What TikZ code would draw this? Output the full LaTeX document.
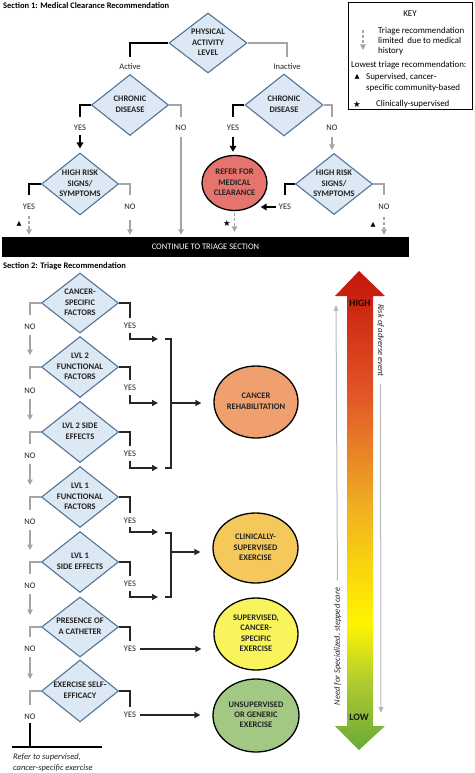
\documentclass[tikz,border=0pt]{standalone}
\usepackage{fontspec}
\setmainfont{Carlito}
\newfontfamily\symfont{DejaVu Sans}
\usetikzlibrary{shapes.geometric,arrows.meta,calc}
\definecolor{dfill}{RGB}{221,232,245}
\definecolor{dedge}{RGB}{84,116,150}
\definecolor{lgray}{RGB}{165,165,165}
\definecolor{sgray}{RGB}{185,185,192}
\definecolor{txtdark}{RGB}{35,35,35}
\definecolor{cRefer}{RGB}{230,116,110}
\definecolor{cRehab}{RGB}{240,160,110}
\definecolor{cClin}{RGB}{245,200,92}
\definecolor{cSup}{RGB}{250,244,92}
\definecolor{cUnsup}{RGB}{162,200,132}
\definecolor{ga}{RGB}{196,22,12}
\definecolor{gb}{RGB}{203,36,16}
\definecolor{gc}{RGB}{227,90,40}
\definecolor{gd}{RGB}{240,174,34}
\definecolor{ge}{RGB}{248,208,16}
\definecolor{gf}{RGB}{255,245,0}
\definecolor{gg}{RGB}{178,204,48}
\definecolor{gh}{RGB}{102,168,58}
\newcommand\myfs{\fontsize{8.5}{10.3}\selectfont}
\newcommand\keyfs{\fontsize{8.9}{10.2}\selectfont}
\newcommand\ctext[1]{\makebox[0pt]{\begin{tabular}{@{}c@{}}#1\end{tabular}}}
\begin{document}
\begin{tikzpicture}[x=1pt,y=-1pt,
  dia/.style={shape=diamond, draw=dedge, line width=1.1pt, fill=dfill, inner sep=0pt,
     minimum width=77pt, minimum height=61pt, font=\myfs\bfseries, text=txtdark},
  ell/.style={shape=ellipse, draw=black, line width=1.3pt, inner sep=0pt, font=\myfs\bfseries, text=txtdark},
  lab/.style={font=\myfs, inner sep=1pt, text height=5.5pt, text depth=0pt, text=txtdark},
  blk/.style={line width=1.8pt, black},
  blkarr/.style={blk, -{Triangle[length=6pt,width=6.5pt]}},
  blktwo/.style={line width=1.5pt, black!85},
  blkarrtwo/.style={blktwo, -{Triangle[length=6pt,width=6pt]}},
  gry/.style={line width=1.1pt, lgray},
  gryarr/.style={gry, -{Triangle[length=5.5pt,width=5.5pt]}},
  dsh/.style={gryarr, dash pattern=on 3pt off 2pt},
  sidearr/.style={line width=1pt, sgray, -{Triangle[length=6pt,width=5pt]}},
  sym/.style={font=\symfont\fontsize{6.5}{6.5}\selectfont, inner sep=0pt},
  starsym/.style={font=\symfont\fontsize{8.5}{8.5}\selectfont, inner sep=0pt},
  ttl/.style={font=\myfs\bfseries, anchor=west, inner sep=0pt},
  keytxt/.style={font=\keyfs, anchor=west, inner sep=0pt, align=left}
]
\useasboundingbox (0,0) rectangle (474,773);

%================ Section 1 =================
\node[ttl] (s1) at (3,6) {Section 1: Medical Clearance Recommendation};

\node[dia, minimum width=78pt, minimum height=60pt] (pal) at (208,43) {\ctext{PHYSICAL\\ACTIVITY\\LEVEL}};
\node[lab] (active) at (130,67) {Active};
\node[lab] (inactive) at (287,67) {Inactive};

\node[dia] (cdA) at (130,105) {\ctext{CHRONIC\\DISEASE}};
\node[dia, minimum width=78pt, minimum height=62pt] (cdB) at (284,105) {\ctext{CHRONIC\\DISEASE}};

\node[lab] (yesA) at (80,128) {YES};
\node[lab] (noA) at (181,128) {NO};
\node[lab] (yesB) at (233,128) {YES};
\node[lab] (noB) at (332,128) {NO};

\node[dia, minimum height=62pt] (hrA) at (80,184) {\ctext{HIGH RISK\\SIGNS/\\SYMPTOMS}};
\node[ell, fill=cRefer, minimum width=65pt, minimum height=55pt] (refer) at (234.5,183) {\ctext{REFER FOR\\MEDICAL\\CLEARANCE}};
\node[dia] (hrB) at (334,184) {\ctext{HIGH RISK\\SIGNS/\\SYMPTOMS}};

\node[lab] (yesA2) at (29,207) {YES};
\node[lab] (noA2) at (130,207) {NO};
\node[lab] (yesB2) at (285,207) {YES};
\node[lab] (noB2) at (384,207) {NO};

\node[sym] (triA) at (19,224) {▲};
\node[starsym] (starR) at (227,223) {★};
\node[sym] (triB) at (373,225) {▲};

\node[fill=black, text=white, font=\myfs, minimum width=407pt, minimum height=20pt, inner sep=0pt] (bar) at (205.5,247) {CONTINUE TO TRIAGE SECTION};

% connectors section 1
\draw[blk, shorten >=6pt] (pal.west) -| (active.north);
\draw[gry, shorten >=6pt] (pal.east) -| (inactive.north);
\draw[blk, shorten >=7pt] (cdA.west) -| (yesA.north);
\draw[gry, shorten >=7pt] (cdA.east) -| (noA.north);
\draw[blk, shorten >=7pt] (cdB.west) -| (yesB.north);
\draw[gry, shorten >=7pt] (cdB.east) -| (noB.north);
\draw[blkarr, shorten <=3pt, shorten >=4pt] (yesA.south) -- (hrA.north);
\draw[gryarr, shorten <=5pt, shorten >=2pt] (noA.south) -- (noA.south |- bar.north);
\draw[blkarr, shorten <=5pt, shorten >=3pt] (yesB.south) -- (yesB.south |- refer.north);
\draw[gryarr, shorten <=5pt, shorten >=3pt] (noB.south) -- (noB.south |- hrB.north);
\draw[blk, shorten >=8pt] (hrA.west) -| (yesA2.north);
\draw[gry, shorten >=8pt] (hrA.east) -| (noA2.north);
\draw[dsh, shorten <=5pt, shorten >=2pt] (yesA2.south) -- (yesA2.south |- bar.north);
\draw[gryarr, shorten <=9pt, shorten >=2pt] (noA2.south) -- (noA2.south |- bar.north);
\draw[dsh, shorten <=1.5pt, shorten >=5pt] (refer.south) -- (refer.south |- bar.north);
\draw[blk, shorten >=8pt] (hrB.west) -| (yesB2.north);
\draw[blkarr, shorten <=2pt] (yesB2.west) -- ($(yesB2.west -| refer.east)+(-7,0)$);
\draw[gry, shorten >=8pt] (hrB.east) -| (noB2.north);
\draw[dsh, shorten <=6pt, shorten >=2pt] (noB2.south) -- (noB2.south |- bar.north);

%================ Key =================
\node[draw, line width=1.3pt, minimum width=124pt, minimum height=107pt, inner sep=0pt, anchor=north west] (key) at (348,2) {};
\node[font=\keyfs, inner sep=0pt] (keyt) at (410,14) {KEY};
\coordinate (kA) at (363,30);
\coordinate (kB) at (363,50);
\draw[dsh] (kA) -- (kB);
\node[keytxt] (keyl) at (378,41) {Triage recommendation\\limited~ due to medical\\history};
\node[keytxt] (keylow) at (351,65) {Lowest triage recommendation:};
\node[sym] (ktri) at (357,77) {▲};
\node[keytxt, font=\fontsize{8.9}{11}\selectfont] (ksup) at (366,82.5) {Supervised, cancer-\\specific community-based};
\node[starsym] (kstar) at (357,104) {★};
\node[keytxt] (kclin) at (376,104) {Clinically-supervised};

%================ Section 2 =================
\node[ttl] (s2) at (3,266) {Section 2: Triage Recommendation};

\node[dia, minimum height=60pt] (d1) at (80,303) {\ctext{CANCER-\\SPECIFIC\\FACTORS}};
\node[dia, minimum height=61pt] (d2) at (80,367) {\ctext{LVL 2\\FUNCTIONAL\\FACTORS}};
\node[dia, minimum height=61pt] (d3) at (80,432) {\ctext{LVL 2 SIDE\\EFFECTS}};
\node[dia, minimum height=61pt] (d4) at (80,497) {\ctext{LVL 1\\FUNCTIONAL\\FACTORS}};
\node[dia, minimum height=61pt] (d5) at (80,562) {\ctext{LVL 1\\SIDE EFFECTS}};
\node[dia, minimum height=60pt] (d6) at (80,627) {\ctext{PRESENCE OF\\A CATHETER}};
\node[dia, minimum height=62pt] (d7) at (80,691) {\ctext{EXERCISE SELF-\\EFFICACY}};

\node[lab] (no1) at (30,327) {NO};
\node[lab] (no2) at (30,391) {NO};
\node[lab] (no3) at (30,456) {NO};
\node[lab] (no4) at (30,522) {NO};
\node[lab] (no5) at (30,586) {NO};
\node[lab] (no6) at (30,649) {NO};
\node[lab] (no7) at (30,717) {NO};

\node[lab] (yes1) at (130,326) {YES};
\node[lab] (yes2) at (130,388) {YES};
\node[lab] (yes3) at (130,454) {YES};
\node[lab] (yes4) at (130,521) {YES};
\node[lab] (yes5) at (130,584) {YES};
\node[lab] (yes6) at (130,649) {YES};
\node[lab] (yes7) at (130,715) {YES};

\node[ell, fill=cRehab, minimum width=84pt, minimum height=72pt] (rehab) at (256,402) {\ctext{CANCER\\REHABILITATION}};
\node[ell, fill=cClin, minimum width=85pt, minimum height=70pt] (clin) at (255.5,548) {\ctext{CLINICALLY-\\SUPERVISED\\EXERCISE}};
\node[ell, fill=cSup, minimum width=84pt, minimum height=72pt] (sup) at (256,634) {\ctext{SUPERVISED,\\CANCER-\\SPECIFIC\\EXERCISE}};
\node[ell, fill=cUnsup, minimum width=86pt, minimum height=73pt] (unsup) at (256,715.5) {\ctext{UNSUPERVISED\\OR GENERIC\\EXERCISE}};

% NO chain
\draw[gry, shorten >=8pt] (d1.west) -| (no1.north);
\draw[gry, shorten >=8pt] (d2.west) -| (no2.north);
\draw[gry, shorten >=8pt] (d3.west) -| (no3.north);
\draw[gry, shorten >=8pt] (d4.west) -| (no4.north);
\draw[gry, shorten >=8pt] (d5.west) -| (no5.north);
\draw[gry, shorten >=8pt] (d6.west) -| (no6.north);
\draw[gry, shorten >=8pt] (d7.west) -| (no7.north);
\draw[gryarr, shorten <=4pt, shorten >=12pt] (no1.south) -- (no1.south |- d2.west);
\draw[gryarr, shorten <=4pt, shorten >=12pt] (no2.south) -- (no2.south |- d3.west);
\draw[gryarr, shorten <=4pt, shorten >=12pt] (no3.south) -- (no3.south |- d4.west);
\draw[gryarr, shorten <=4pt, shorten >=12pt] (no4.south) -- (no4.south |- d5.west);
\draw[gryarr, shorten <=4pt, shorten >=12pt] (no5.south) -- (no5.south |- d6.west);
\draw[gryarr, shorten <=4pt, shorten >=12pt] (no6.south) -- (no6.south |- d7.west);

\coordinate (refL) at (12,747);
\coordinate (refR) at (102,747);
\draw[blk, shorten <=2pt] (no7.south) -- (no7.south |- refL);
\draw[blk] (refL) -- (refR);
\node[font=\fontsize{8.5}{11}\selectfont\itshape, anchor=west, align=left, inner sep=0pt, text=txtdark] (refer2) at (13,763) {Refer to supervised,\\cancer-specific exercise};

% YES branches
\draw[blktwo, shorten >=4pt] (d1.east) -| (yes1.north);
\draw[blktwo, shorten >=4pt] (d2.east) -| (yes2.north);
\draw[blktwo, shorten >=4pt] (d3.east) -| (yes3.north);
\draw[blktwo, shorten >=4pt] (d4.east) -| (yes4.north);
\draw[blktwo, shorten >=4pt] (d5.east) -| (yes5.north);
\draw[blktwo, shorten >=4pt] (d6.east) -| (yes6.north);
\draw[blktwo, shorten >=4pt] (d7.east) -| (yes7.north);

\coordinate (e1) at (158,339);
\coordinate (e2) at (158,403);
\coordinate (e3) at (158,468);
\coordinate (e4) at (158,532);
\coordinate (e5) at (158,597);
\draw[blkarrtwo, shorten <=3pt] (yes1.south) |- (e1);
\draw[blkarrtwo, shorten <=3pt] (yes2.south) |- (e2);
\draw[blkarrtwo, shorten <=3pt] (yes3.south) |- (e3);
\draw[blkarrtwo, shorten <=2pt] (yes4.south) |- (e4);
\draw[blkarrtwo, shorten <=3pt] (yes5.south) |- (e5);

% brackets
\coordinate (b1t) at (171,339);
\coordinate (b1b) at (171,468);
\coordinate (b1m) at (171,403);
\draw[blktwo] ([xshift=-6pt]b1t) -- (b1t) -- (b1b) -- ([xshift=-6pt]b1b);
\draw[blkarrtwo, shorten >=12pt] (b1m) -- (b1m -| rehab.west);
\coordinate (b2t) at (171,533);
\coordinate (b2b) at (171,597);
\coordinate (b2m) at (171,552);
\draw[blktwo] ([xshift=-6pt]b2t) -- (b2t) -- (b2b) -- ([xshift=-6pt]b2b);
\draw[blkarrtwo, shorten >=12pt] (b2m) -- (b2m -| clin.west);

\draw[blkarrtwo, shorten <=3pt, shorten >=12pt] (yes6.east) -- (yes6.east -| sup.west);
\draw[blkarrtwo, shorten <=3pt, shorten >=12pt] (yes7.east) -- (yes7.east -| unsup.west);

%================ Gradient arrow =================
\begin{scope}
\clip (359,271) -- (385,296) -- (373,296) -- (373,726) -- (385,726) -- (359,750) -- (335,726) -- (347,726) -- (347,296) -- (335,296) -- cycle;
\shade[top color=ga, bottom color=gb] (330,268) rectangle (390,300.6);
\shade[top color=gb, bottom color=gc] (330,300) rectangle (390,400.6);
\shade[top color=gc, bottom color=gd] (330,400) rectangle (390,505.6);
\shade[top color=gd, bottom color=ge] (330,505) rectangle (390,560.6);
\shade[top color=ge, bottom color=gf] (330,560) rectangle (390,623.6);
\shade[top color=gf, bottom color=gg] (330,623) rectangle (390,680.6);
\shade[top color=gg, bottom color=gh] (330,680) rectangle (390,752);
\end{scope}
\node[font=\fontsize{9.8}{10}\selectfont\bfseries, text=black!85!red, inner sep=0pt] (high) at (360,303) {HIGH};
\node[font=\fontsize{9.8}{10}\selectfont\bfseries, text=black!90, inner sep=0pt] (low) at (359,717) {LOW};

\coordinate (lnB) at (336,305);
\node[font=\myfs\itshape, rotate=90, inner sep=0pt, text=txtdark] (need) at (337.5,646.5) {Need for Specialized, stepped care};
\draw[sidearr, shorten <=7pt] (need.east) -- (lnB);
\coordinate (rnB) at (381,713);
\node[font=\myfs\itshape, rotate=-90, inner sep=0pt, text=txtdark] (risk) at (380.5,340.5) {Risk of adverse event};
\draw[sidearr, shorten <=7pt] (risk.east) -- (rnB);

\end{tikzpicture}
\end{document}
